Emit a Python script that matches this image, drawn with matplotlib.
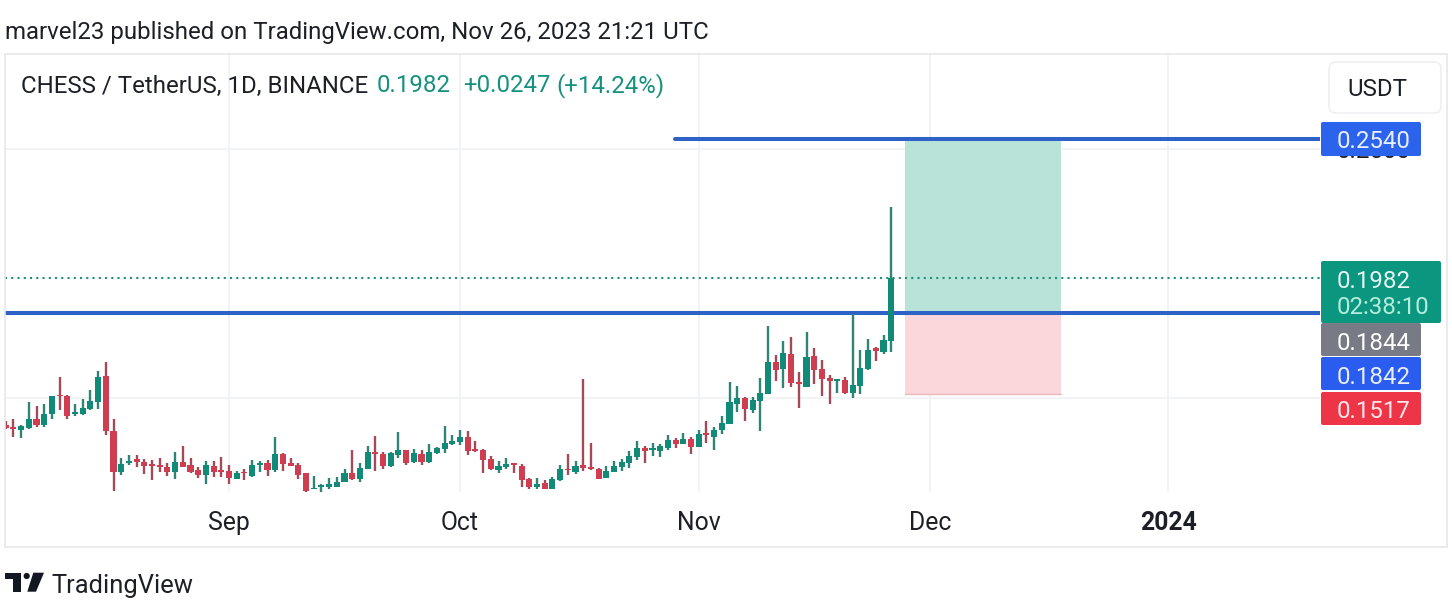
from datetime import datetime, timedelta
import matplotlib
matplotlib.use("Agg")
import matplotlib.pyplot as plt
import matplotlib.dates as mdates
from matplotlib.patches import Polygon, Circle, FancyBboxPatch, Rectangle

plt.rcParams['font.family'] = ['Roboto', 'DejaVu Sans']

# ---- data ----
first_day = datetime(2023, 8, 3)
opens = [.1392,.1385,.1373,.1381,.1417,.1392,.1436,.1515,.1510,.1439,.1437,.1456,.1487,.1590,.1369,.1205,.1239,.1255,.1246,.1237,
         .1234,.1225,.1205,.1245,.1233,.1213,.1194,.1229,.1213,.1210,.1177,.1206,.1190,.1233,.1241,.1214,.1277,.1239,.1233,.1199,
         .1135,.1145,.1146,.1146,.1166,.1199,.1177,.1218,.1286,.1278,.1229,.1272,.1292,.1243,.1277,.1245,.1280,.1297,.1317,.1325,
         .1344,.1297,.1293,.1258,.1211,.1226,.1241,.1227,.1177,.1143,.1161,.1138,.1173,.1218,.1206,.1233,.1225,.1218,.1182,.1206,
         .1225,.1242,.1265,.1302,.1293,.1289,.1300,.1333,.1318,.1337,.1305,.1362,.1346,.1374,.1397,.1479,.1501,.1453,.1491,.1518,
         .1644,.1617,.1677,.1565,.1546,.1669,.1617,.1581,.1569,.1573,.1521,.1550,.1616,.1700,.1685,.1731]
highs = [.1411,.1417,.1395,.1485,.1469,.1477,.1511,.1584,.1513,.1477,.1496,.1534,.1611,.1645,.1417,.1261,.1272,.1273,.1255,.1251,
         .1261,.1239,.1284,.1308,.1261,.1223,.1247,.1247,.1264,.1231,.1207,.1215,.1251,.1249,.1253,.1344,.1280,.1261,.1239,.1202,
         .1189,.1157,.1179,.1183,.1217,.1293,.1241,.1308,.1349,.1284,.1286,.1365,.1293,.1296,.1292,.1316,.1304,.1389,.1352,.1372,
         .1369,.1328,.1296,.1268,.1247,.1259,.1241,.1235,.1182,.1179,.1174,.1186,.1233,.1277,.1247,.1576,.1320,.1222,.1230,.1247,
         .1255,.1288,.1328,.1309,.1320,.1317,.1353,.1340,.1360,.1346,.1372,.1409,.1384,.1429,.1564,.1550,.1504,.1504,.1581,.1790,
         .1673,.1729,.1745,.1604,.1766,.1700,.1652,.1593,.1576,.1584,.1838,.1693,.1737,.1707,.1754,.2267]
lows = [.1376,.1346,.1342,.1378,.1384,.1384,.1416,.1453,.1419,.1431,.1432,.1453,.1456,.1354,.1130,.1194,.1231,.1226,.1197,.1174,
        .1203,.1190,.1178,.1225,.1202,.1182,.1158,.1186,.1186,.1158,.1175,.1174,.1185,.1206,.1189,.1206,.1210,.1229,.1177,.1126,
        .1135,.1126,.1138,.1145,.1165,.1174,.1166,.1218,.1210,.1218,.1226,.1262,.1233,.1242,.1233,.1242,.1278,.1282,.1313,.1314,
        .1274,.1286,.1202,.1214,.1202,.1218,.1199,.1146,.1138,.1135,.1135,.1138,.1167,.1193,.1198,.1210,.1214,.1177,.1181,.1205,
        .1210,.1222,.1254,.1241,.1268,.1266,.1293,.1302,.1317,.1277,.1304,.1322,.1293,.1358,.1396,.1447,.1411,.1443,.1370,.1518,
        .1569,.1542,.1546,.1463,.1546,.1558,.1510,.1478,.1522,.1518,.1502,.1518,.1613,.1649,.1677,.1685]
closes = [.1381,.1378,.1389,.1417,.1393,.1437,.1511,.1508,.1429,.1445,.1461,.1489,.1587,.1370,.1206,.1237,.1249,.1245,.1230,.1230,
          .1226,.1205,.1245,.1226,.1206,.1191,.1233,.1205,.1205,.1181,.1199,.1199,.1233,.1239,.1214,.1276,.1238,.1230,.1194,.1129,
          .1141,.1151,.1155,.1165,.1201,.1177,.1219,.1284,.1278,.1227,.1280,.1293,.1239,.1280,.1245,.1284,.1301,.1321,.1330,.1344,
          .1289,.1289,.1254,.1217,.1229,.1238,.1234,.1174,.1146,.1157,.1137,.1177,.1217,.1211,.1229,.1222,.1215,.1178,.1207,.1229,
          .1245,.1269,.1300,.1290,.1300,.1308,.1333,.1318,.1337,.1306,.1357,.1354,.1372,.1401,.1485,.1500,.1457,.1493,.1521,.1645,
          .1613,.1681,.1561,.1557,.1665,.1613,.1577,.1569,.1576,.1521,.1552,.1621,.1693,.1689,.1733,.1982]

target_price = 0.2540
entry_price = 0.1842
stop_price = 0.1517
last_price = 0.1982
grid_prices = [0.25, 0.15]
tick_dates = [datetime(2023, 9, 1), datetime(2023, 10, 1), datetime(2023, 11, 1), datetime(2023, 12, 1), datetime(2024, 1, 1)]
tick_labels = ['Sep', 'Oct', 'Nov', 'Dec', '2024']
line_start = datetime(2023, 10, 28, 21)
box_start = datetime(2023, 11, 27, 19)
box_end = datetime(2023, 12, 18, 1)

title = 'marvel23 published on TradingView.com, Nov 26, 2023 21:21 UTC'
header = 'CHESS / TetherUS, 1D, BINANCE'
header_vals = ['0.1982', '+0.0247', '(+14.24%)']

# ---- style ----
W, H = 1452, 603
GREEN, RED = '#128a78', '#cf3e50'
GREEN_W, RED_W = '#2f8475', '#a34a58'
BLUE_LINE = '#2e62c6'
GRID = '#f0f1f3'
TXT = '#1c2026'
FS = 17.25

fig = plt.figure(figsize=(W / 100, H / 100), dpi=100, facecolor='white')

# overlay for page furniture, in pixels
ov = fig.add_axes([0, 0, 1, 1], zorder=5)
ov.set_xlim(0, W); ov.set_ylim(H, 0); ov.axis('off'); ov.patch.set_alpha(0)

# price pane
PL, PR, PT, PB = 5, 1320, 54, 492
ax = fig.add_axes([PL / W, 1 - PB / H, (PR - PL) / W, (PB - PT) / H], zorder=2)
px_day = 7.70
sep1 = mdates.date2num(tick_dates[0])
ax.set_xlim(sep1 - (229 - PL) / px_day, sep1 + (PR - 229) / px_day)
px_price = 0.000401
ax.set_ylim(target_price - (PB - 139) * px_price, target_price + (139 - PT) * px_price)
for s in ax.spines.values():
    s.set_visible(False)

ax.set_xticks([mdates.date2num(d) for d in tick_dates])
ax.set_xticklabels(tick_labels, fontsize=17.8, color=TXT)
ax.get_xticklabels()[-1].set_fontweight('bold')
ax.set_yticks([])
ax.tick_params(axis='x', length=0, pad=14)
ax.grid(axis='x', color=GRID, lw=1.2, zorder=0)
for g in grid_prices:
    ax.axhline(g, color=GRID, lw=1.2, zorder=0)

x0 = mdates.date2num(first_day)
xs = [x0 + i for i in range(len(opens))]
for x, o, h, l, c in zip(xs, opens, highs, lows, closes):
    up = c >= o
    ax.vlines(x, l, h, color=GREEN_W if up else RED_W, lw=1.7, zorder=4)
    ax.bar(x, abs(c - o), bottom=min(o, c), width=0.8, color=GREEN if up else RED, lw=0, zorder=5)

bs, be = mdates.date2num(box_start), mdates.date2num(box_end)
ax.fill_between([bs, be], entry_price, target_price, color='#b9e3d9', lw=0, zorder=2)
ax.fill_between([bs, be], stop_price, entry_price, color='#fbd6da', lw=0, zorder=2)
ax.plot([bs, be], [stop_price, stop_price], color='#e8b9bd', lw=1, zorder=2)
ax.axhline(last_price, color='#1f8f7d', lw=1.5, ls=(0, (1, 2)), zorder=3)
ax.axhline(entry_price, color=BLUE_LINE, lw=2.9, zorder=3)
ax.plot([mdates.date2num(line_start), ax.get_xlim()[1]], [target_price, target_price], color=BLUE_LINE, lw=2.9, zorder=3, solid_capstyle='round')

# page furniture
ov.add_patch(Rectangle((5, 54), 1442, 493, fill=False, ec='#e6e7ea', lw=1.2))
ov.text(5, 32.5, title, fontsize=FS, color=TXT, va='center', ha='left')
ov.text(21, 86, header, fontsize=FS, color=TXT, va='center', ha='left')
hx = [377, 463, 556]
for xp, t in zip(hx, header_vals):
    ov.text(xp, 86, t, fontsize=FS, color='#15917f', va='center', ha='left')

ov.add_patch(FancyBboxPatch((1329, 62), 112, 51, boxstyle='round,pad=0,rounding_size=7', fc='white', ec='#eeeff1', lw=1.2))
ov.text(1377, 89.5, 'USDT', fontsize=FS, color=TXT, va='center', ha='center')

ov.text(1337, 152, '0.2500', fontsize=FS, color=TXT, va='center', ha='left', zorder=1)


def label(y0, y1, x1, color, lines):
    ov.add_patch(FancyBboxPatch((1321, y0), x1 - 1321, y1 - y0, boxstyle='round,pad=0,rounding_size=2', fc=color, ec='none', zorder=2))
    for yc, t, tc in lines:
        ov.text(1337, yc, t, fontsize=FS, color=tc, va='center', ha='left', zorder=3)


label(122, 156, 1421, '#2b63ec', [(141, '0.2540', '#e8eefc')])
label(261, 323, 1441, '#0b977f', [(281, '0.1982', '#e6f6f2'), (308, '02:38:10', '#b5ecdd')])
label(323, 356, 1421, '#787b86', [(343, '0.1844', 'white')])
label(357, 390, 1421, '#2b5cf0', [(377, '0.1842', '#e8eefc')])
label(392, 425, 1421, '#ee3548', [(411, '0.1517', '#fde6e8')])

# TradingView logo and wordmark
ink = '#131722'
ov.add_patch(Polygon([(5, 572.7), (20.7, 572.7), (20.7, 591.7), (12.7, 591.7), (12.7, 579.3), (5, 579.3)], fc=ink, ec='none'))
ov.add_patch(Circle((26.7, 576), 3.1, fc=ink, ec='none'))
ov.add_patch(Polygon([(33.3, 572.7), (44, 572.7), (36, 591.7), (27.3, 591.7)], fc=ink, ec='none'))
ov.text(51, 585.5, 'TradingView', fontsize=18.4, color=TXT, va='center', ha='left')

fig.savefig('out.png', dpi=100, facecolor='white')
